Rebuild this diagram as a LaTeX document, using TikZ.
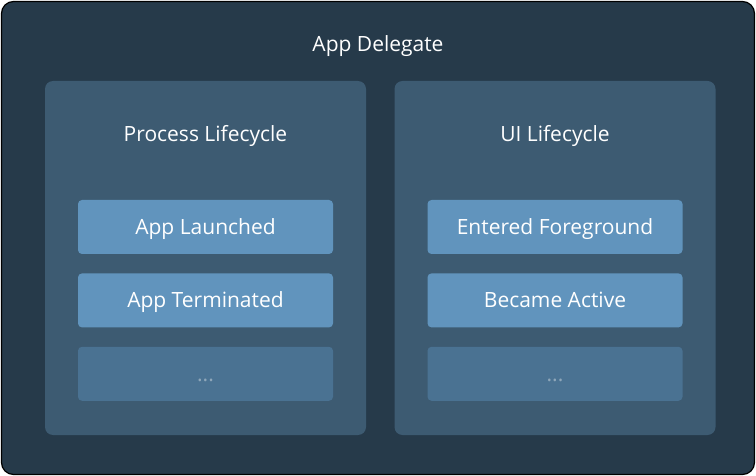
\documentclass[tikz,border=0pt]{standalone}
\usepackage{fontspec}
\setmainfont{Open Sans}
\usetikzlibrary{positioning}
\usetikzlibrary{chains}
\definecolor{delegatebg}{HTML}{263A4A}
\definecolor{lifecyclebg}{HTML}{3D5B72}
\definecolor{eventbg}{HTML}{6194BD}
\definecolor{morebg}{HTML}{4A7292}
\definecolor{moretext}{HTML}{8FA7BA}
\tikzset{
	delegate/.style={
		rectangle,
		rounded corners=12pt,
		fill=delegatebg,
		draw=black, line width=1.2pt,
		minimum width=753pt,
		minimum height=473pt},
	lifecycle/.style={
		rectangle,
		rounded corners=8pt,
		fill=lifecyclebg,
		minimum width=321pt,
		minimum height=354pt},
	event/.style={
		rectangle,
		rounded corners=4pt,
		fill=eventbg,
		text=white,
		minimum width=255pt,
		minimum height=54pt,
		text height=15pt, text depth=0pt,
		inner sep=0pt,
		on chain},
	more/.style={
		event,
		fill=morebg,
		text=moretext},
	title/.style={text=white, text height=15pt, text depth=0pt, inner sep=0pt},
}

\begin{document}
\begin{tikzpicture}[x=1pt, y=-1pt, font=\fontsize{21}{25}\selectfont]
	\useasboundingbox (0,0) rectangle (756,476);
	\node[delegate] (appdelegate) at (378,238) {};
	\node[title] (delegatetitle) at (378,44.5) {App Delegate};
	% process lifecycle
	\node[lifecycle] (process) at (205.5,258) {};
	\node[title] (processtitle) at (205.5,134.5) {Process Lifecycle};
	\begin{scope}[start chain=going below, node distance=19pt]
		\node[event] (launched) at (205.5,227) {App Launched};
		\node[event] (terminated) {App Terminated};
		\node[more] (processmore) {...};
	\end{scope}
	% ui lifecycle
	\node[lifecycle] (ui) at (555,258) {};
	\node[title] (uititle) at (555,134.5) {UI Lifecycle};
	\begin{scope}[start chain=going below, node distance=19pt]
		\node[event] (foreground) at (555,227) {Entered Foreground};
		\node[event] (active) {Became Active};
		\node[more] (uimore) {...};
	\end{scope}
\end{tikzpicture}
\end{document}
